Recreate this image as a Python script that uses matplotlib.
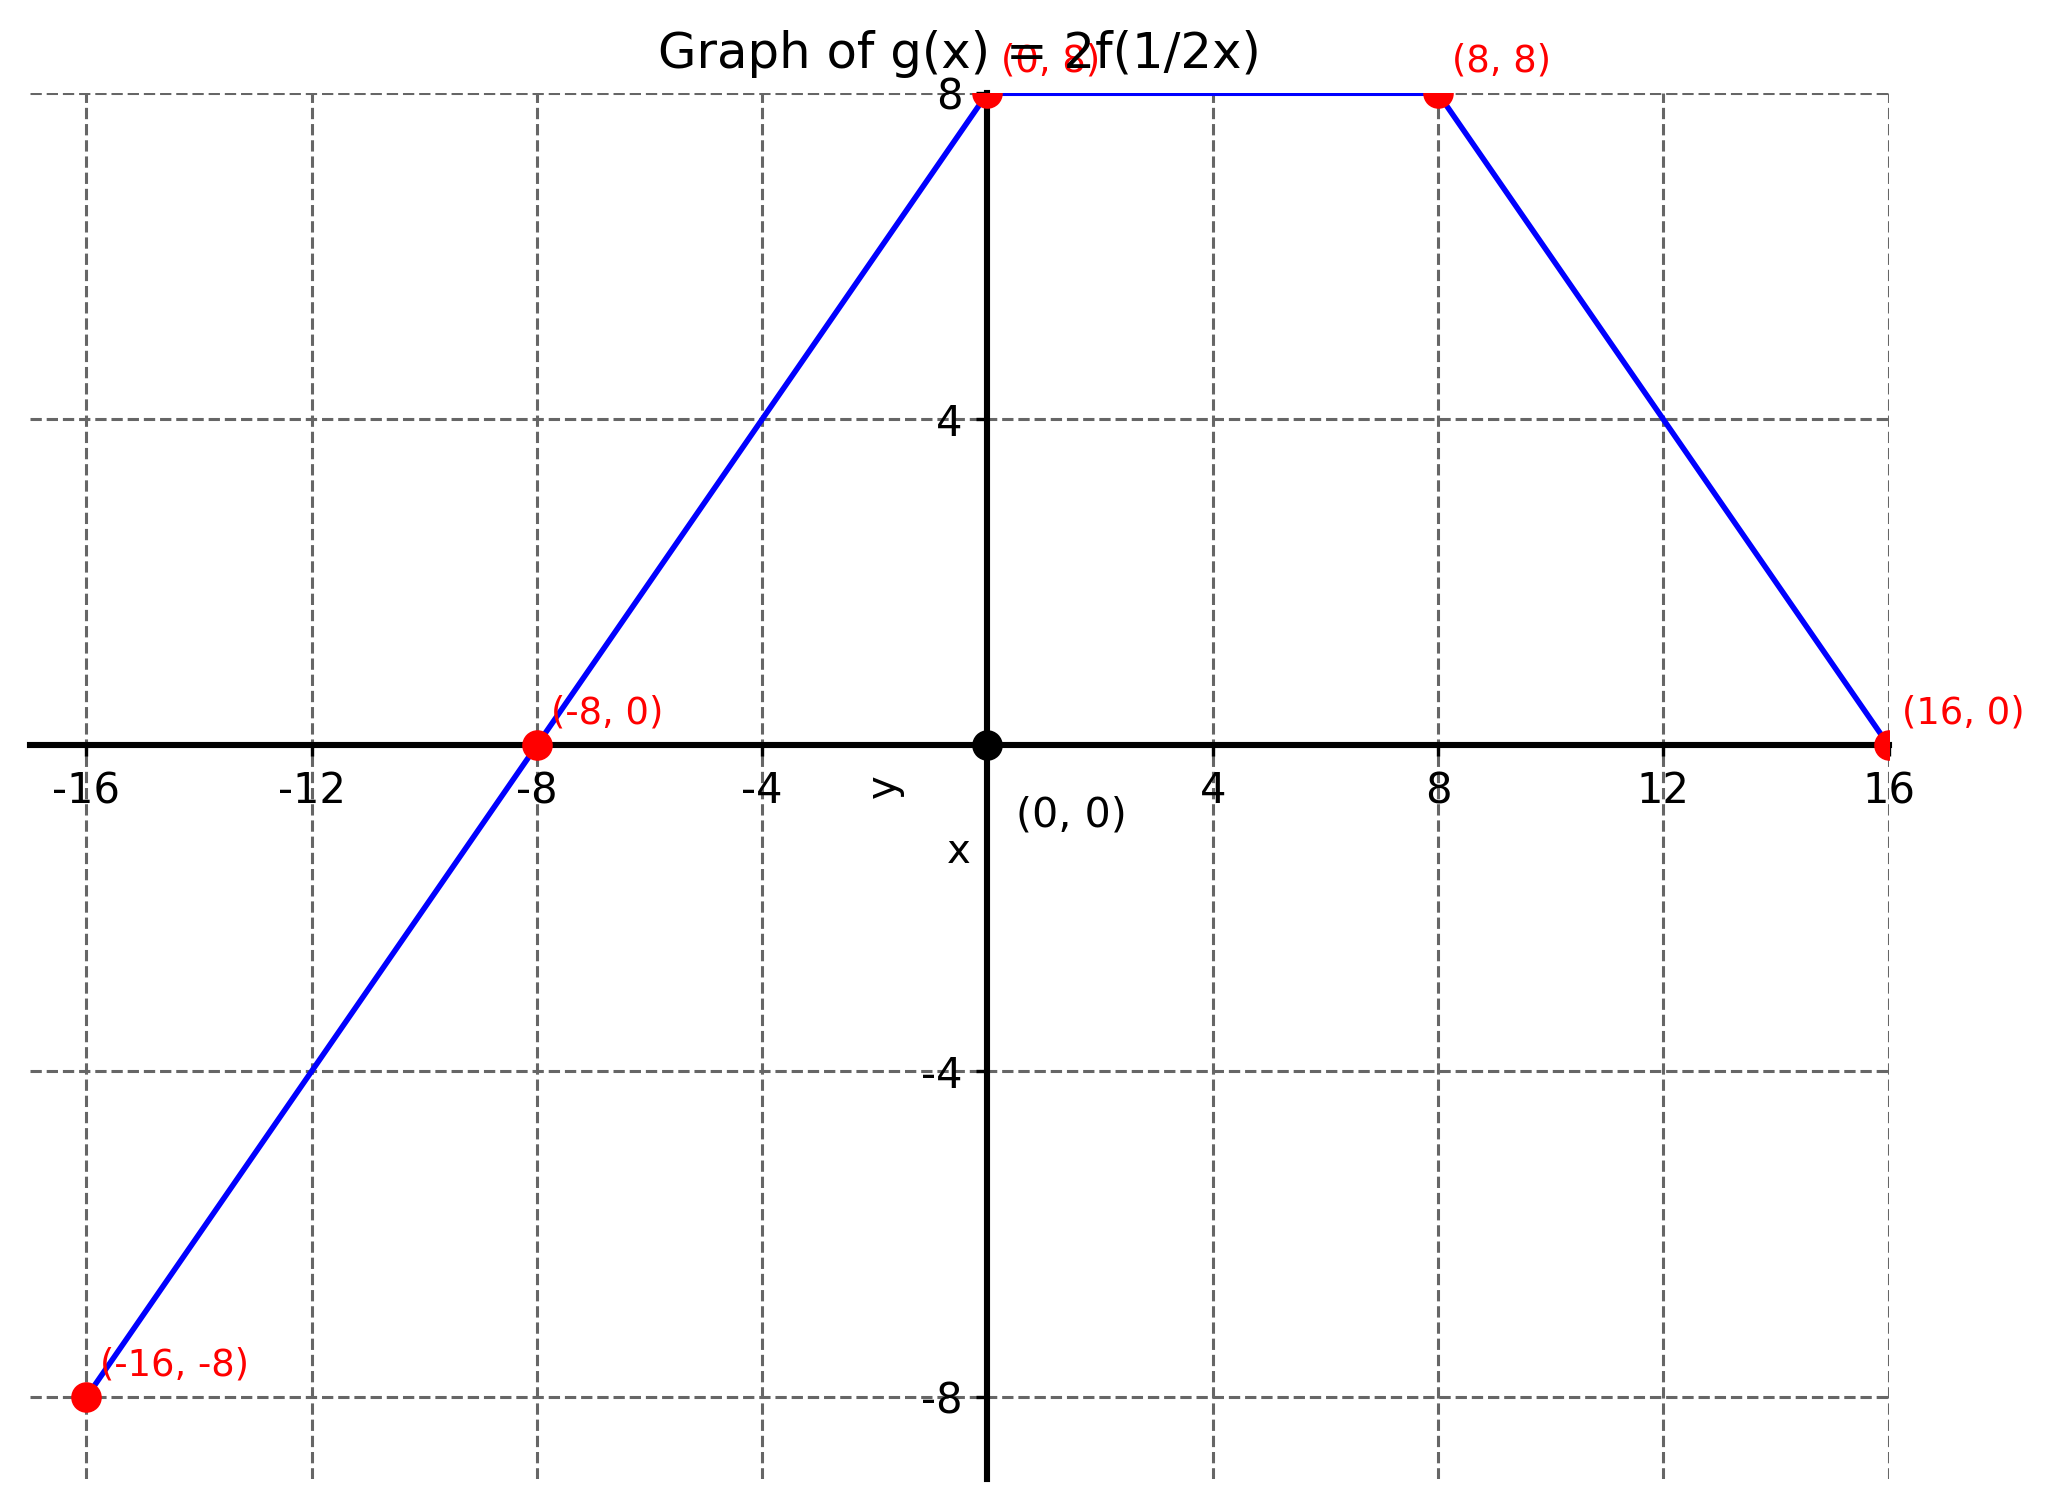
import matplotlib
matplotlib.use("Agg")
import matplotlib.pyplot as plt

# Data
x_pts = [-16, -8, 0, 8, 16]
y_pts = [-8, 0, 8, 8, 0]
point_labels = ["(-16, -8)", "(-8, 0)", "(0, 8)", "(8, 8)", "(16, 0)"]
x_ticks = [-16, -12, -8, -4, 4, 8, 12, 16]
y_ticks = [-8, -4, 4, 8]
x_limits = (-17, 16)
y_limits = (-9, 8)
title = "Graph of g(x) = 2f(1/2x)"

plt.rcParams['axes.unicode_minus'] = False
fig = plt.figure(figsize=(10.275, 7.545), dpi=200)
ax = fig.add_axes([0.0146, 0.0200, 0.9044, 0.9182])

ax.plot(x_pts, y_pts, color='blue', linewidth=2, zorder=2)
ax.plot(x_pts, y_pts, 'o', color='red', markersize=10, zorder=3)
for xp, yp, lab in zip(x_pts, y_pts, point_labels):
    ax.annotate(lab, (xp, yp), xytext=(5, 5), textcoords='offset points',
                color='red', fontsize=13.3, ha='left', va='bottom',
                annotation_clip=False)

ax.plot([0], [0], 'o', color='black', markersize=10, zorder=4)
ax.text(0.5, -0.62, "(0, 0)", color='black', fontsize=14.8, ha='left', va='top')

ax.set_xlim(*x_limits)
ax.set_ylim(*y_limits)
ax.set_xticks(x_ticks)
ax.set_yticks(y_ticks)
ax.set_xticklabels([str(t) for t in x_ticks])
ax.set_yticklabels([str(t) for t in y_ticks])
ax.tick_params(labelsize=15, width=1.2, length=4, pad=5)

ax.spines['left'].set_position('zero')
ax.spines['bottom'].set_position('zero')
ax.spines['right'].set_visible(False)
ax.spines['top'].set_visible(False)
ax.spines['left'].set_linewidth(2.2)
ax.spines['bottom'].set_linewidth(2.2)

ax.grid(True, linestyle='--', color='#666666', linewidth=1.1)
ax.set_axisbelow(True)

ax.set_xlabel("x", fontsize=14.5, labelpad=7)
ax.set_ylabel("y", fontsize=14.5, labelpad=6)
ax.set_title(title, fontsize=17.9, pad=9)

fig.savefig("out.png", dpi=200)
